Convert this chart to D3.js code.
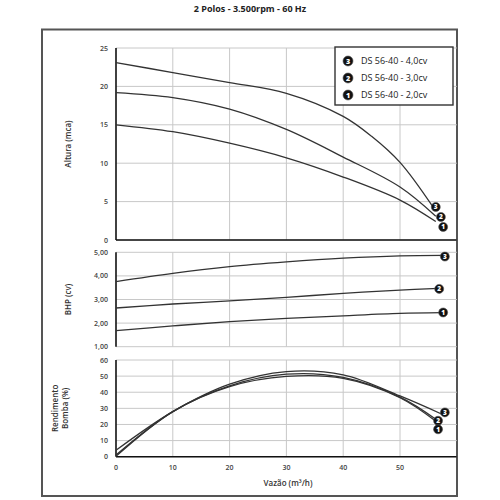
<!DOCTYPE html>
<html>
<head>
<meta charset="utf-8">
<script src="https://cdn.jsdelivr.net/npm/d3@7"></script>
<style>
  body { margin: 0; background: #fff; }
  text { font-family: "Open Sans", sans-serif; }
</style>
</head>
<body>
<div id="wrapper"></div>
<script>
// data
const seriesNames = ["DS 56-40 - 4,0cv", "DS 56-40 - 3,0cv", "DS 56-40 - 2,0cv"]
const seriesIds = ["3", "2", "1"]

// Altura (mca)
const alturaX3 = [0, 10, 20, 30, 40, 45, 50, 55.8]
const altura3 = [23.1, 21.8, 20.5, 19.1, 16.1, 13.5, 10.1, 4.3]
const alturaX2 = [0, 10, 20, 30, 40, 50, 56.3]
const altura2 = [19.2, 18.55, 17.05, 14.4, 10.8, 6.9, 3.1]
const alturaX1 = [0, 10, 20, 30, 40, 50, 56.3]
const altura1 = [15.0, 14.1, 12.6, 10.7, 8.2, 5.2, 2.4]
const alturaMarkX = [56.3, 57.2, 57.6]
const alturaMarkY = [4.3, 3.0, 1.7]

// BHP (cv)
const bhpX3 = [0, 10, 20, 30, 40, 50, 57.5]
const bhp3 = [3.76, 4.11, 4.39, 4.59, 4.75, 4.85, 4.87]
const bhpX2 = [0, 10, 20, 30, 40, 50, 56.8]
const bhp2 = [2.64, 2.81, 2.94, 3.09, 3.26, 3.40, 3.47]
const bhpX1 = [0, 10, 20, 30, 40, 50, 57.3]
const bhp1 = [1.68, 1.88, 2.06, 2.20, 2.31, 2.41, 2.44]
const bhpMarkX = [57.9, 56.9, 57.6]
const bhpMarkY = [4.82, 3.45, 2.45]

// Rendimento Bomba (%)
const effX3 = [0, 10, 20, 30, 40, 50, 57.3]
const eff3 = [4.0, 28, 45, 52.8, 50.8, 37.7, 26.5]
const effX2 = [0, 10, 20, 30, 40, 50, 56.5]
const eff2 = [1.0, 28, 44, 51.2, 49.2, 37, 22.8]
const effX1 = [0, 10, 20, 30, 40, 50, 56.5]
const eff1 = [0.3, 28, 43.5, 49.8, 48.6, 36.6, 21.5]
const effMarkX = [57.9, 56.7, 56.7]
const effMarkY = [27.5, 22.3, 17]

const xTicks = [0, 10, 20, 30, 40, 50]
const alturaTicks = [0, 5, 10, 15, 20, 25]
const bhpTicks = [1, 2, 3, 4, 5]
const effTicks = [0, 10, 20, 30, 40, 50, 60]

const svg = d3.select("#wrapper").append("svg")
  .attr("width", 500)
  .attr("height", 500)

const xScale = d3.scaleLinear().domain([0, 60]).range([116, 456.8])

const panels = [
  { label: ["Altura (mca)"], scale: d3.scaleLinear().domain([0, 25]).range([240, 48]),
    ticks: alturaTicks, fmt: d => d, base: true,
    xs: [alturaX3, alturaX2, alturaX1], ys: [altura3, altura2, altura1],
    mx: alturaMarkX, my: alturaMarkY, labelX: 71 },
  { label: ["BHP (cv)"], scale: d3.scaleLinear().domain([1, 5]).range([346.7, 252.3]),
    ticks: bhpTicks, fmt: d => d3.format(".2f")(d).replace(".", ","), base: false,
    xs: [bhpX3, bhpX2, bhpX1], ys: [bhp3, bhp2, bhp1],
    mx: bhpMarkX, my: bhpMarkY, labelX: 71 },
  { label: ["Rendimento", "Bomba (%)"], scale: d3.scaleLinear().domain([0, 60]).range([456.7, 360]),
    ticks: effTicks, fmt: d => d, base: true,
    xs: [effX3, effX2, effX1], ys: [eff3, eff2, eff1],
    mx: effMarkX, my: effMarkY, labelX: 60 },
]

// outer frame
svg.append("rect")
  .attr("x", 42).attr("y", 29.5)
  .attr("width", 415).attr("height", 466.5)
  .attr("fill", "none").attr("stroke", "#555").attr("stroke-width", 2)

svg.append("text")
  .attr("x", 250).attr("y", 12)
  .attr("text-anchor", "middle")
  .attr("font-size", 9).attr("font-weight", 700).attr("fill", "#222")
  .text("2 Polos - 3.500rpm - 60 Hz")

function drawMarker(g, cx, cy, id, r) {
  g.append("circle").attr("cx", cx).attr("cy", cy).attr("r", r)
    .attr("fill", "#111").attr("stroke", "#555").attr("stroke-width", 0.6)
  g.append("text").attr("x", cx).attr("y", cy + r * 0.5)
    .attr("text-anchor", "middle").attr("font-size", r * 1.45).attr("font-weight", 800)
    .attr("fill", "#fff").text(id)
}

panels.forEach(p => {
  const y = p.scale
  const g = svg.append("g")
  const [y0, y1] = y.range()

  // grid
  g.selectAll(".hg").data(p.ticks).join("line")
    .attr("x1", xScale(0)).attr("x2", xScale(60))
    .attr("y1", d => y(d)).attr("y2", d => y(d))
    .attr("stroke", "#c8c8c8").attr("stroke-width", 1)
  g.selectAll(".vg").data(xTicks.slice(1)).join("line")
    .attr("x1", d => xScale(d)).attr("x2", d => xScale(d))
    .attr("y1", y1).attr("y2", y0)
    .attr("stroke", "#c8c8c8").attr("stroke-width", 1)

  // axes
  g.append("line").attr("x1", xScale(0)).attr("x2", xScale(0))
    .attr("y1", y1).attr("y2", y0).attr("stroke", "#111").attr("stroke-width", 1.6)
  if (p.base) {
    g.append("line").attr("x1", xScale(0)).attr("x2", xScale(60))
      .attr("y1", y0).attr("y2", y0).attr("stroke", "#111").attr("stroke-width", 1.6)
  }

  g.selectAll(".yt").data(p.ticks).join("text")
    .attr("x", 108).attr("y", d => y(d) + 2.5)
    .attr("text-anchor", "end").attr("font-size", 7).attr("font-weight", 600)
    .attr("fill", "#444").text(p.fmt)

  // axis title
  const mid = (y0 + y1) / 2
  const t = g.append("text")
    .attr("transform", `translate(${p.labelX},${mid}) rotate(-90)`)
    .attr("text-anchor", "middle").attr("font-size", 8).attr("font-weight", 600)
    .attr("fill", "#333")
  p.label.forEach((s, i) => {
    t.append("tspan").attr("x", 0).attr("dy", i === 0 ? (p.label.length > 1 ? -2 : 0) : 9.5).text(s)
  })

  // curves
  const line = d3.line().x(d => xScale(d[0])).y(d => y(d[1])).curve(d3.curveCatmullRom.alpha(0.5))
  p.xs.forEach((xs, i) => {
    const pts = xs.map((v, j) => [v, p.ys[i][j]])
    g.append("path").attr("d", line(pts))
      .attr("fill", "none").attr("stroke", "#333").attr("stroke-width", 1.3)
  })
  p.mx.forEach((mx, i) => drawMarker(g, xScale(mx), y(p.my[i]), seriesIds[i], 4.5))
})

// x tick labels and title
svg.selectAll(".xt").data(xTicks).join("text")
  .attr("x", d => xScale(d)).attr("y", 470)
  .attr("text-anchor", "middle").attr("font-size", 7).attr("font-weight", 600)
  .attr("fill", "#444").text(d => d)

svg.append("text")
  .attr("x", 288).attr("y", 486)
  .attr("text-anchor", "middle").attr("font-size", 8).attr("font-weight", 600)
  .attr("fill", "#333")
  .text("Vazão (m³/h)")

// legend
const legend = svg.append("g")
legend.append("rect")
  .attr("x", 335).attr("y", 47)
  .attr("width", 118).attr("height", 58)
  .attr("fill", "#fff").attr("stroke", "#333").attr("stroke-width", 1.4)
seriesNames.forEach((name, i) => {
  const ly = 61 + i * 17
  drawMarker(legend, 348, ly, seriesIds[i], 5)
  legend.append("text").attr("x", 361).attr("y", ly + 3.2)
    .attr("font-size", 9).attr("fill", "#222").text(name)
})
</script>
</body>
</html>
